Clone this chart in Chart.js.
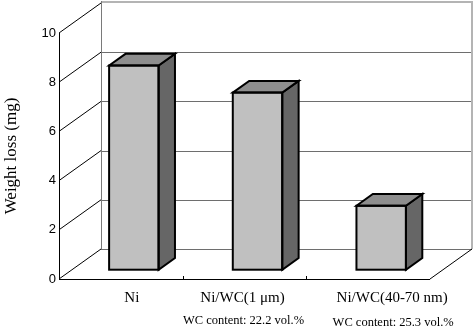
<!DOCTYPE html>
<html>
<head>
<meta charset="utf-8">
<script src="https://cdn.jsdelivr.net/npm/chart.js@4"></script>
<style>
  html, body { margin: 0; padding: 0; background: #fff; }
  #wrap { width: 474px; height: 329px; position: relative; }
</style>
</head>
<body>
<div id="wrap"><canvas id="c" width="474" height="329"></canvas></div>
<script>
// Coatings compared in the wear test
const categories = ['Ni', 'Ni/WC(1 \u03bcm)', 'Ni/WC(40-70 nm)'];
// WC content of each coating, vol.% (pure Ni has none)
const wcContent = [null, 22.2, 25.3];
// Measured weight loss, mg
const weightLoss = [8.3, 7.2, 2.6];
// Value axis ticks
const yTicks = [0, 2, 4, 6, 8, 10];

// Perspective of the box: depth vector of the floor, and where bars sit in it
const DEPTH = { dx: 42, dy: -30 };
const BAR_FRONT = 0.31;   // fraction of floor depth to the bar front face
const BAR_DEPTH = 0.39;   // fraction of floor depth taken by a bar
// Horizontal nudges of the category captions
const captionShift = [11, -2, 24];

const FRONT = '#c0c0c0', TOP = '#8e8e8e', SIDE = '#666666';

function line(ctx, x1, y1, x2, y2) {
  ctx.beginPath(); ctx.moveTo(x1, y1); ctx.lineTo(x2, y2); ctx.stroke();
}

const boxPlugin = {
  id: 'box3d',
  beforeDatasetsDraw(chart) {
    const ctx = chart.ctx, xs = chart.scales.x, ys = chart.scales.y;
    const L = xs.left, R = xs.right, y0 = ys.getPixelForValue(0);
    const yTop = ys.getPixelForValue(yTicks[yTicks.length - 1]);
    const dx = DEPTH.dx, dy = DEPTH.dy;
    ctx.save();
    ctx.lineCap = 'butt';
    // back wall grid lines
    ctx.strokeStyle = '#6e6e6e'; ctx.lineWidth = 1;
    yTicks.forEach(v => {
      const y = Math.round(ys.getPixelForValue(v) + dy) + 0.5;
      if (v === yTicks[yTicks.length - 1]) return;
      line(ctx, L + dx, y, R + dx, y);
    });
    // back wall outer edges
    ctx.strokeStyle = '#b4b4b4'; ctx.lineWidth = 2;
    line(ctx, L + dx, Math.round(yTop + dy) - 1, R + dx + 1, Math.round(yTop + dy) - 1);
    line(ctx, R + dx, Math.round(yTop + dy) - 1, R + dx, Math.round(y0 + dy));
    // back corner of side wall
    ctx.strokeStyle = '#7a7a7a'; ctx.lineWidth = 1;
    line(ctx, Math.round(L + dx) + 0.5, yTop + dy - 2, Math.round(L + dx) + 0.5, y0 + dy);
    // side wall diagonals
    ctx.strokeStyle = '#000'; ctx.lineWidth = 1;
    yTicks.forEach(v => {
      const y = ys.getPixelForValue(v);
      line(ctx, L, y, L + dx, y + dy);
    });
    // front value axis
    line(ctx, Math.round(L) + 0.5, yTop, Math.round(L) + 0.5, y0);
    // floor front and right edges
    line(ctx, L, Math.round(y0) + 0.5, R, Math.round(y0) + 0.5);
    line(ctx, R, y0, R + dx, y0 + dy);
    // category dividers on the floor edge
    const n = categories.length, w = (R - L) / n;
    for (let i = 1; i < n; i++) {
      const x = Math.round(L + i * w) + 0.5;
      line(ctx, x, y0 - 3, x, y0);
    }
    ctx.restore();
    // bars' front faces are drawn set back into the box
    ctx.save();
    ctx.translate(DEPTH.dx * BAR_FRONT, DEPTH.dy * BAR_FRONT);
  },
  afterDatasetsDraw(chart) {
    const ctx = chart.ctx;
    ctx.restore();
    const meta = chart.getDatasetMeta(0);
    const ox = DEPTH.dx * BAR_FRONT, oy = DEPTH.dy * BAR_FRONT;
    const bx = DEPTH.dx * BAR_DEPTH, by = DEPTH.dy * BAR_DEPTH;
    ctx.save();
    ctx.lineWidth = 2; ctx.strokeStyle = '#000'; ctx.lineJoin = 'miter';
    meta.data.forEach(el => {
      const p = el.getProps(['x', 'y', 'base', 'width'], true);
      const xl = p.x - p.width / 2 + ox, xr = p.x + p.width / 2 + ox;
      const yt = p.y + oy, yb = p.base + oy;
      // side face
      ctx.fillStyle = SIDE;
      ctx.beginPath();
      ctx.moveTo(xr, yt); ctx.lineTo(xr + bx, yt + by);
      ctx.lineTo(xr + bx, yb + by); ctx.lineTo(xr, yb); ctx.closePath();
      ctx.fill(); ctx.stroke();
      // top face
      ctx.fillStyle = TOP;
      ctx.beginPath();
      ctx.moveTo(xl, yt); ctx.lineTo(xl + bx, yt + by);
      ctx.lineTo(xr + bx, yt + by); ctx.lineTo(xr, yt); ctx.closePath();
      ctx.fill(); ctx.stroke();
      // front face outline
      ctx.strokeRect(xl, yt, xr - xl, yb - yt);
    });
    ctx.restore();
  },
  afterDraw(chart) {
    const ctx = chart.ctx, xs = chart.scales.x, ys = chart.scales.y;
    const y0 = ys.getPixelForValue(0);
    ctx.save();
    ctx.fillStyle = '#000';
    ctx.textAlign = 'center';
    ctx.textBaseline = 'alphabetic';
    categories.forEach((c, i) => {
      const x = xs.getPixelForValue(i) + captionShift[i];
      ctx.font = '15px "Liberation Serif", "Times New Roman", serif';
      ctx.fillText(c, x, y0 + 23);
      if (wcContent[i] !== null) {
        ctx.font = '12.5px "Liberation Serif", "Times New Roman", serif';
        ctx.fillText('WC content: ' + wcContent[i].toFixed(1) + ' vol.%', x + 1, y0 + 45 + (i === 2 ? 2 : 0));
      }
    });
    ctx.restore();
  }
};

new Chart(document.getElementById('c'), {
  type: 'bar',
  data: {
    labels: categories,
    datasets: [{
      data: weightLoss,
      backgroundColor: FRONT,
      borderWidth: 0,
      barPercentage: 0.4,
      categoryPercentage: 1.0,
      clip: false
    }]
  },
  options: {
    responsive: false,
    animation: false,
    events: [],
    layout: { padding: { top: 33, right: 44, bottom: 50, left: 0 } },
    plugins: { legend: { display: false }, tooltip: { enabled: false } },
    scales: {
      x: { display: false, offset: true },
      y: {
        min: 0, max: 10,
        afterFit(s) { s.width = 59; },
        afterBuildTicks(s) { s.ticks = yTicks.map(v => ({ value: v })); },
        grid: { display: false, drawTicks: false },
        border: { display: false },
        ticks: {
          padding: 3,
          color: '#000',
          font: { family: '"Liberation Sans", Arial, sans-serif', size: 13 }
        },
        title: {
          display: true,
          text: 'Weight loss (mg)',
          color: '#000',
          padding: { top: 1, bottom: 0 },
          font: { family: '"Liberation Serif", "Times New Roman", serif', size: 17 }
        }
      }
    }
  },
  plugins: [boxPlugin]
});
</script>
</body>
</html>
